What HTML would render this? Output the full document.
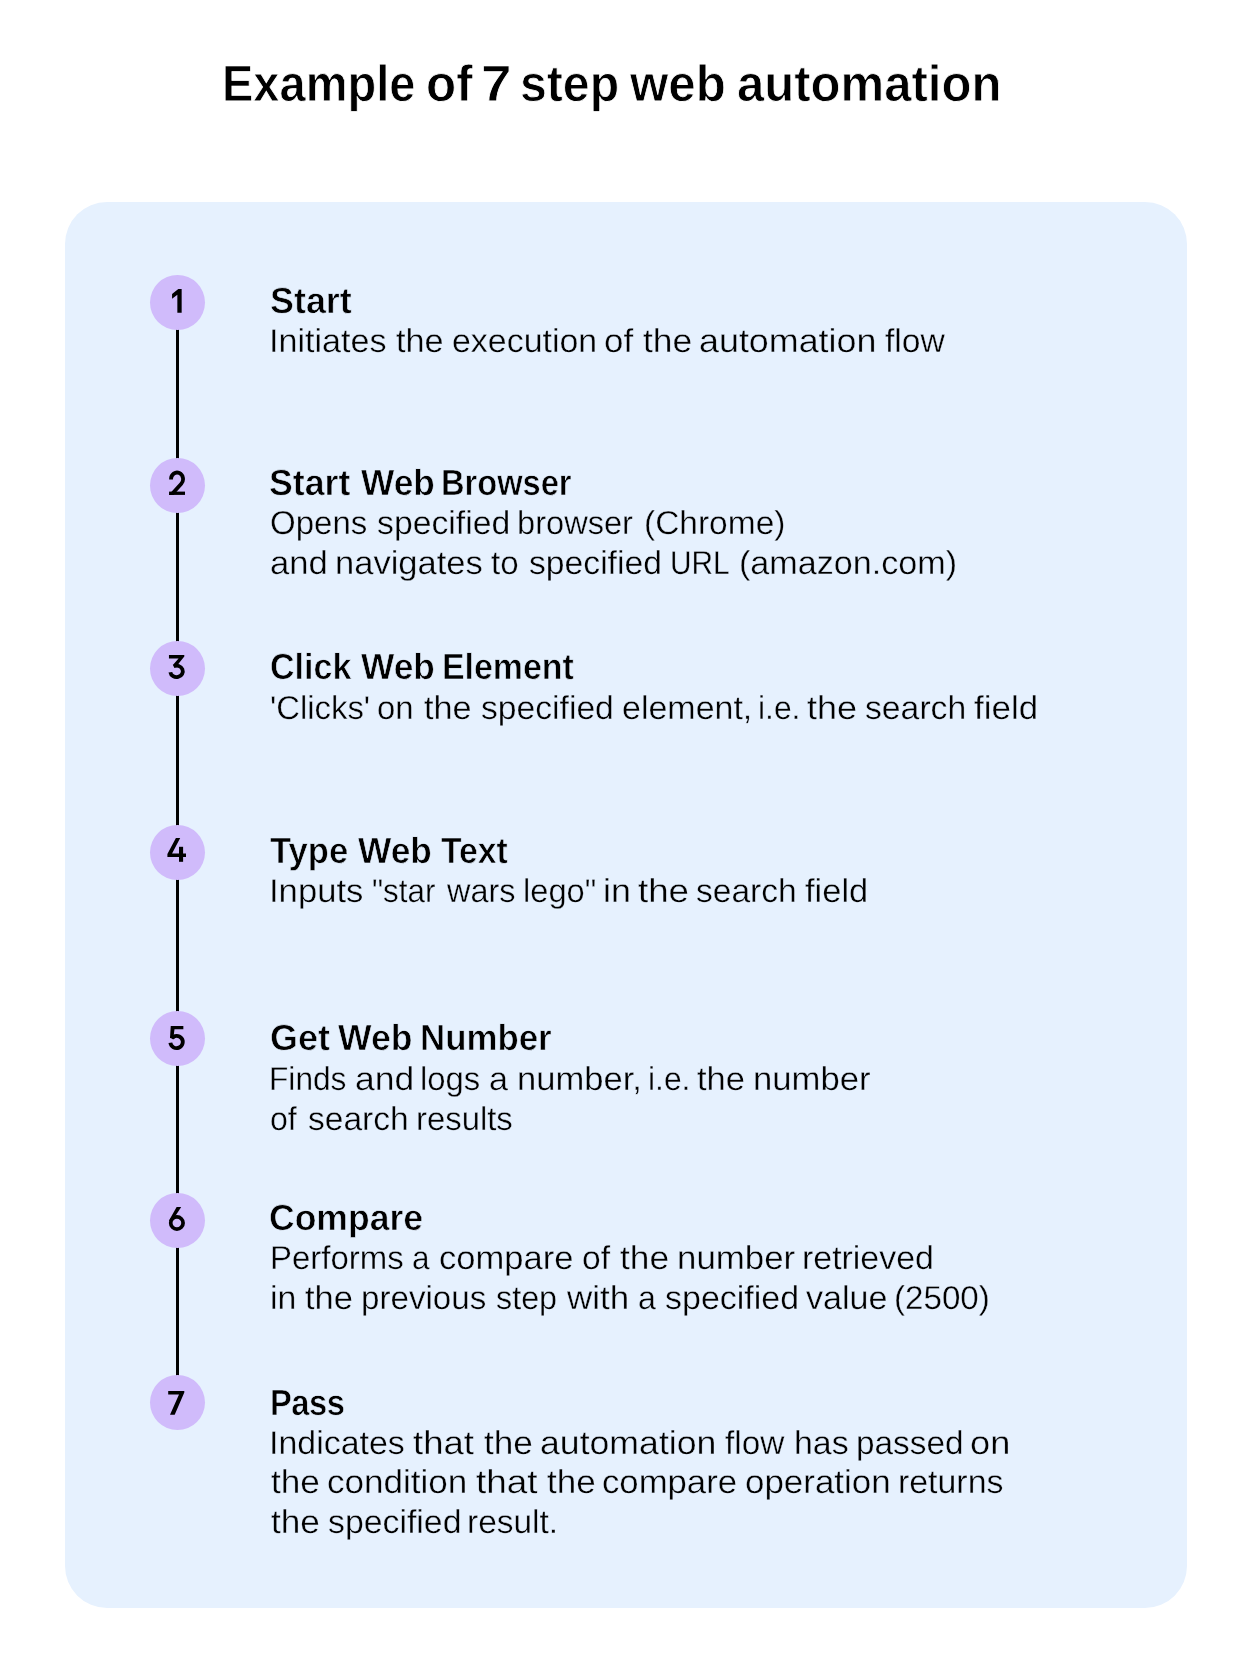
<!DOCTYPE html>
<html lang="en">
<head>
<meta charset="utf-8">
<title>Example of 7 step web automation</title>
<style>
html,body{margin:0;padding:0;}
body{width:1251px;height:1680px;background:#ffffff;position:relative;overflow:hidden;font-family:"Liberation Sans",sans-serif;color:#000;text-rendering:geometricPrecision;}
.stage{position:absolute;left:0;top:0;width:1251px;height:1680px;background:#ffffff;will-change:transform;}
.panel{position:absolute;left:65px;top:202px;width:1122px;height:1405.5px;border-radius:42px;background:#E6F1FE;}
.vline{position:absolute;background:#000;}
.dot{position:absolute;width:55.3px;height:55.3px;border-radius:50%;background:#D0BBFB;}
.nums{position:absolute;left:0;top:0;}
.ln{position:absolute;white-space:nowrap;transform-origin:0 0;line-height:40px;height:40px;margin:0;}
.sg{position:absolute;top:0;white-space:pre;transform-origin:0 0;}
.t{font-size:51px;font-weight:bold;line-height:60px;height:60px;-webkit-text-stroke:0.8px #ffffff;}
.h{font-size:36.4px;font-weight:bold;-webkit-text-stroke:0.6px #E6F1FE;}
.b{font-size:33px;font-weight:normal;-webkit-text-stroke:0.35px #E6F1FE;}
</style>
</head>
<body>
<div class="stage">
<div class="panel"></div>
<div class="vline" style="left:176.00px;top:302.3px;width:3.2px;height:1100.2px"></div>
<div class="dot" style="left:149.95px;top:274.65px"></div>
<div class="dot" style="left:149.95px;top:457.95px"></div>
<div class="dot" style="left:149.95px;top:640.75px"></div>
<div class="dot" style="left:149.95px;top:824.85px"></div>
<div class="dot" style="left:149.95px;top:1010.65px"></div>
<div class="dot" style="left:149.95px;top:1192.65px"></div>
<div class="dot" style="left:149.95px;top:1374.85px"></div>
<svg class="nums" width="1251" height="1680" viewBox="0 0 1251 1680" role="img" aria-label="Step numbers 1 to 7" fill="#000">
<title>Steps 1 2 3 4 5 6 7</title>
<polygon points="181.66,288.90 178.30,288.90 172.07,294.07 172.07,298.87 177.35,294.80 177.35,312.80 181.66,312.80"/>
<clipPath id="c2"><rect x="169.07" y="470" width="15.93" height="24.9"/></clipPath>
<g clip-path="url(#c2)"><path d="M171.05,479.5 V479.10 A6.0,6.55 0 1 1 181.30,483.72 L169.24,497.04" fill="none" stroke="#000" stroke-width="3.8" stroke-linejoin="round"/><rect x="169.07" y="491.6" width="15.93" height="3.3"/></g>
<polygon points="168.95,654.90 184.30,654.90 184.30,656.40 178.70,663.50 176.60,667.60 173.30,664.40 178.55,658.40 168.95,658.40"/>
<path d="M173.62,666.37 A6.25,5.70 0 1 1 170.36,672.19" fill="none" stroke="#000" stroke-width="3.8"/>
<polygon points="175.90,837.90 180.20,837.90 172.07,853.40 186.00,853.40 186.00,856.90 167.40,856.90 167.40,854.10"/>
<rect x="179.0" y="846.8" width="4.1" height="15.0"/>
<polygon points="170.75,1026.00 183.35,1026.00 183.35,1029.30 174.50,1029.30 173.75,1035.00 174.60,1038.90 170.00,1038.10"/>
<path d="M171.62,1038.24 A6.25,6.10 0 1 1 170.36,1042.85" fill="none" stroke="#000" stroke-width="3.8"/>
<ellipse cx="176.9" cy="1223.0" rx="6.2" ry="6.05" fill="none" stroke="#000" stroke-width="3.7"/>
<polygon points="176.60,1206.90 181.20,1206.90 176.00,1215.00 172.60,1220.00 169.00,1221.60 169.30,1219.90"/>
<polygon points="168.20,1390.90 184.30,1390.90 184.30,1392.40 174.70,1414.70 170.00,1414.70 179.00,1394.40 168.20,1394.40"/>
</svg>
<h1 class="ln t" style="left:0;top:54px"><span class="sg" style="left:221.95px;transform:scaleX(0.9217)">Example </span><span class="sg" style="left:425.50px;transform:scaleX(0.9674)">of </span><span class="sg" style="left:480.85px;transform:scaleX(1.0746)">7 </span><span class="sg" style="left:520.25px;transform:scaleX(0.9450)">step </span><span class="sg" style="left:630.20px;transform:scaleX(0.9663)">web </span><span class="sg" style="left:736.50px;transform:scaleX(0.9620)">automation</span></h1>
<h2 class="ln h" style="left:270.05px;top:281px;transform:scaleX(0.9863)">Start</h2>
<p class="ln b" style="left:0;top:321px"><span class="sg" style="left:269.15px;transform:scaleX(1.0333)">Initiates </span><span class="sg" style="left:395.60px;transform:scaleX(1.0380)">the </span><span class="sg" style="left:452.15px;transform:scaleX(1.0276)">execution </span><span class="sg" style="left:604.00px;transform:scaleX(1.0577)">of </span><span class="sg" style="left:642.90px;transform:scaleX(1.0732)">the </span><span class="sg" style="left:699.20px;transform:scaleX(1.0865)">automation </span><span class="sg" style="left:885.30px;transform:scaleX(1.0191)">flow</span></p>
<h2 class="ln h" style="left:0;top:463px"><span class="sg" style="left:269.00px;transform:scaleX(0.9814)">Start </span><span class="sg" style="left:361.05px;transform:scaleX(0.9696)">Web </span><span class="sg" style="left:441.10px;transform:scaleX(0.8963)">Browser</span></h2>
<p class="ln b" style="left:0;top:503px"><span class="sg" style="left:270.20px;transform:scaleX(1.0005)">Opens </span><span class="sg" style="left:376.65px;transform:scaleX(1.0229)">specified </span><span class="sg" style="left:517.05px;transform:scaleX(0.9882)">browser </span><span class="sg" style="left:644.35px;transform:scaleX(1.0148)">(Chrome)</span></p>
<p class="ln b" style="left:0;top:543px"><span class="sg" style="left:270.45px;transform:scaleX(1.0478)">and </span><span class="sg" style="left:334.70px;transform:scaleX(1.0465)">navigates </span><span class="sg" style="left:491.45px;transform:scaleX(1.0042)">to </span><span class="sg" style="left:529.05px;transform:scaleX(1.0205)">specified </span><span class="sg" style="left:670.25px;transform:scaleX(0.9044)">URL </span><span class="sg" style="left:739.20px;transform:scaleX(1.0339)">(amazon.com)</span></p>
<h2 class="ln h" style="left:0;top:647px"><span class="sg" style="left:269.75px;transform:scaleX(0.9349)">Click </span><span class="sg" style="left:361.05px;transform:scaleX(0.9696)">Web </span><span class="sg" style="left:441.85px;transform:scaleX(0.9313)">Element</span></h2>
<p class="ln b" style="left:0;top:688px"><span class="sg" style="left:269.50px;transform:scaleX(0.9948)">'Clicks' </span><span class="sg" style="left:377.15px;transform:scaleX(0.9970)">on </span><span class="sg" style="left:424.45px;transform:scaleX(1.0377)">the </span><span class="sg" style="left:481.20px;transform:scaleX(1.0197)">specified </span><span class="sg" style="left:622.30px;transform:scaleX(1.0295)">element, </span><span class="sg" style="left:757.75px;transform:scaleX(0.9643)">i.e. </span><span class="sg" style="left:807.05px;transform:scaleX(1.0915)">the </span><span class="sg" style="left:864.65px;transform:scaleX(1.0220)">search </span><span class="sg" style="left:974.45px;transform:scaleX(1.0583)">field</span></p>
<h2 class="ln h" style="left:0;top:831px"><span class="sg" style="left:270.00px;transform:scaleX(0.9502)">Type </span><span class="sg" style="left:357.95px;transform:scaleX(0.9696)">Web </span><span class="sg" style="left:440.85px;transform:scaleX(0.9258)">Text</span></h2>
<p class="ln b" style="left:0;top:871px"><span class="sg" style="left:268.85px;transform:scaleX(1.0493)">Inputs </span><span class="sg" style="left:372.30px;transform:scaleX(0.9488)">"star </span><span class="sg" style="left:447.05px;transform:scaleX(0.9824)">wars </span><span class="sg" style="left:523.20px;transform:scaleX(0.9886)">lego" </span><span class="sg" style="left:602.50px;transform:scaleX(1.0863)">in </span><span class="sg" style="left:638.20px;transform:scaleX(1.1120)">the </span><span class="sg" style="left:696.35px;transform:scaleX(1.0167)">search </span><span class="sg" style="left:805.15px;transform:scaleX(1.0459)">field</span></p>
<h2 class="ln h" style="left:0;top:1018px"><span class="sg" style="left:269.50px;transform:scaleX(0.9871)">Get </span><span class="sg" style="left:337.95px;transform:scaleX(0.9764)">Web </span><span class="sg" style="left:419.95px;transform:scaleX(0.9572)">Number</span></h2>
<p class="ln b" style="left:0;top:1059px"><span class="sg" style="left:269.35px;transform:scaleX(0.9596)">Finds </span><span class="sg" style="left:355.20px;transform:scaleX(1.0762)">and </span><span class="sg" style="left:420.05px;transform:scaleX(0.9957)">logs </span><span class="sg" style="left:488.85px;transform:scaleX(1.0329)">a </span><span class="sg" style="left:516.65px;transform:scaleX(1.0477)">number, </span><span class="sg" style="left:647.65px;transform:scaleX(0.9639)">i.e. </span><span class="sg" style="left:697.15px;transform:scaleX(1.0446)">the </span><span class="sg" style="left:752.65px;transform:scaleX(1.0504)">number</span></p>
<p class="ln b" style="left:0;top:1099px"><span class="sg" style="left:270.00px;transform:scaleX(0.9731)">of </span><span class="sg" style="left:307.65px;transform:scaleX(1.0162)">search </span><span class="sg" style="left:415.50px;transform:scaleX(0.9957)">results</span></p>
<h2 class="ln h" style="left:269.05px;top:1198px;transform:scaleX(0.9764)">Compare</h2>
<p class="ln b" style="left:0;top:1238px"><span class="sg" style="left:269.90px;transform:scaleX(0.9985)">Performs </span><span class="sg" style="left:412.30px;transform:scaleX(0.9552)">a </span><span class="sg" style="left:439.30px;transform:scaleX(1.0467)">compare </span><span class="sg" style="left:581.85px;transform:scaleX(1.0192)">of </span><span class="sg" style="left:619.75px;transform:scaleX(1.0686)">the </span><span class="sg" style="left:676.65px;transform:scaleX(1.0558)">number </span><span class="sg" style="left:801.70px;transform:scaleX(1.0271)">retrieved</span></p>
<p class="ln b" style="left:0;top:1278px"><span class="sg" style="left:269.65px;transform:scaleX(1.0259)">in </span><span class="sg" style="left:305.15px;transform:scaleX(1.0446)">the </span><span class="sg" style="left:361.40px;transform:scaleX(1.0042)">previous </span><span class="sg" style="left:495.50px;transform:scaleX(0.9790)">step </span><span class="sg" style="left:567.05px;transform:scaleX(1.0593)">with </span><span class="sg" style="left:638.00px;transform:scaleX(0.9732)">a </span><span class="sg" style="left:665.05px;transform:scaleX(1.0295)">specified </span><span class="sg" style="left:805.70px;transform:scaleX(1.0331)">value </span><span class="sg" style="left:894.35px;transform:scaleX(1.0044)">(2500)</span></p>
<h2 class="ln h" style="left:269.50px;top:1383px;letter-spacing:-0.500px;transform:scaleX(0.8991)">Pass</h2>
<p class="ln b" style="left:0;top:1423px"><span class="sg" style="left:269.15px;transform:scaleX(1.0281)">Indicates </span><span class="sg" style="left:413.05px;transform:scaleX(1.1074)">that </span><span class="sg" style="left:483.90px;transform:scaleX(1.0663)">the </span><span class="sg" style="left:539.60px;transform:scaleX(1.0801)">automation </span><span class="sg" style="left:725.30px;transform:scaleX(1.0122)">flow </span><span class="sg" style="left:793.55px;transform:scaleX(1.0283)">has </span><span class="sg" style="left:855.80px;transform:scaleX(1.0098)">passed </span><span class="sg" style="left:969.75px;transform:scaleX(1.0970)">on</span></p>
<p class="ln b" style="left:0;top:1462px"><span class="sg" style="left:271.20px;transform:scaleX(1.0663)">the </span><span class="sg" style="left:327.00px;transform:scaleX(1.0623)">condition </span><span class="sg" style="left:475.90px;transform:scaleX(1.1162)">that </span><span class="sg" style="left:546.90px;transform:scaleX(1.0618)">the </span><span class="sg" style="left:602.00px;transform:scaleX(1.0515)">compare </span><span class="sg" style="left:744.70px;transform:scaleX(1.0582)">operation </span><span class="sg" style="left:898.15px;transform:scaleX(1.0262)">returns</span></p>
<p class="ln b" style="left:0;top:1502px"><span class="sg" style="left:271.20px;transform:scaleX(1.0663)">the </span><span class="sg" style="left:327.50px;transform:scaleX(1.0245)">specified </span><span class="sg" style="left:467.10px;transform:scaleX(1.0143)">result.</span></p>
</div>
</body>
</html>
